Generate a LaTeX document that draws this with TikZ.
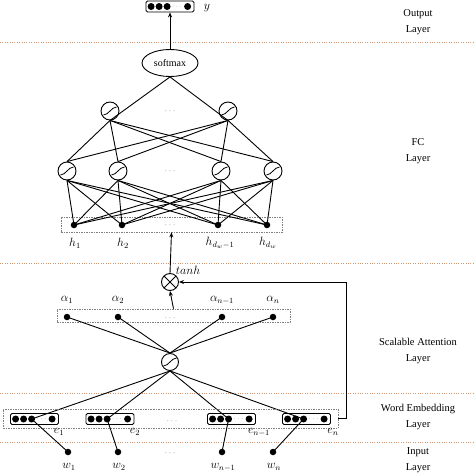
\documentclass[tikz,border=0pt]{standalone}
\usepackage{fontspec}
\setmainfont{Liberation Serif}
\usetikzlibrary{arrows.meta,shapes.geometric}
\definecolor{sepcol}{RGB}{205,150,110}
\begin{document}
\begin{tikzpicture}[x=1pt,y=-1pt,
  conn/.style={line width=0.9pt},
  arr/.style={conn,-{Stealth[length=5pt,width=4pt]}},
  neuron/.style={circle,draw,line width=0.9pt,fill=white,minimum size=18pt,inner sep=0pt,
    path picture={\draw[line width=0.8pt]
      ([shift={(-6.5pt,-4pt)}]path picture bounding box.center) .. controls
      ([shift={(-1.5pt,-4pt)}]path picture bounding box.center) and
      ([shift={(1.5pt,4pt)}]path picture bounding box.center) ..
      ([shift={(6.5pt,4pt)}]path picture bounding box.center);}},
  mulnode/.style={circle,draw,line width=0.9pt,minimum size=17pt,inner sep=0pt,
    path picture={\draw[line width=0.8pt]
      (path picture bounding box.south west) -- (path picture bounding box.north east)
      (path picture bounding box.north west) -- (path picture bounding box.south east);}},
  bdot/.style={circle,fill,inner sep=0pt,minimum size=6.5pt},
  vdot/.style={circle,fill,inner sep=0pt,minimum size=7pt},
  vecbox/.style={draw,rounded corners=1.5pt,line width=0.8pt,minimum width=48pt,minimum height=11pt,inner sep=0pt},
  dashbox/.style={draw=gray,dash pattern=on 1.5pt off 1pt,line width=0.6pt,inner sep=0pt},
  sep/.style={draw=sepcol,dash pattern=on 0.8pt off 1.6pt,line width=0.9pt},
  lay/.style={align=center,font=\fontsize{10.5}{16}\selectfont},
  dts/.style={text=gray,font=\small,inner sep=0pt},
  lab/.style={font=\fontsize{12}{14}\selectfont,inner sep=0pt}
]
\useasboundingbox (0,0) rectangle (474,474);

% separators
\draw[sep] (0,42) -- (474,42);
\draw[sep] (0,263) -- (474,263);
\draw[sep] (0,393) -- (474,393);
\draw[sep] (0,442) -- (474,442);

% layer labels
\node[lay] (lout) at (418,22) {Output\\Layer};
\node[lay] (lfc) at (418,151) {FC\\Layer};
\node[lay] (latt) at (418,351) {Scalable Attention\\Layer};
\node[lay] (lemb) at (418,417) {Word Embedding\\Layer};
\node[lay] (linp) at (418,460) {Input\\Layer};

% vectors (output + embeddings)
\foreach \n/\cx/\cy in {yv/170/6.5, e1/34.5/419, e2/110/419, e3/231.5/419, e4/306.5/419}{
  \node[vecbox] (\n) at (\cx,\cy) {};
  \node[vdot] (\n-1) at ([xshift=5.5pt]\n.west) {};
  \node[vdot] (\n-2) at ([xshift=13.5pt]\n.west) {};
  \node[vdot] (\n-3) at ([xshift=21.5pt]\n.west) {};
  \node[dts,font=\scriptsize] (\n-d) at ([xshift=31.5pt]\n.west) {$\cdots$};
  \node[vdot] (\n-4) at ([xshift=42pt]\n.west) {};
}
\node[lab] (ylab) at (207,8) {$y$};

% softmax
\node[ellipse,draw,line width=0.9pt,minimum width=56pt,minimum height=27pt,inner sep=0pt,font=\fontsize{10}{11}\selectfont] (soft) at (170,63) {softmax};
\draw[arr] (soft.north) -- (yv.south);

% FC neurons
\node[neuron] (t1) at (110,111) {};
\node[neuron] (t2) at (228,111) {};
\node[dts] (tdots) at (170,111) {$\cdots$};
\node[neuron] (f1) at (67,171) {};
\node[neuron] (f2) at (118,171) {};
\node[neuron] (f3) at (221,171) {};
\node[neuron] (f4) at (273,171) {};
\node[dts] (fdots) at (170,171) {$\cdots$};

% h layer
\node[dashbox,minimum width=221pt,minimum height=15pt] (hbox) at (171.5,224.5) {};
\node[bdot] (h1) at (74,225) {};
\node[bdot] (h2) at (122,225) {};
\node[bdot] (h3) at (218,225) {};
\node[bdot] (h4) at (267,225) {};
\node[dts] (hdots) at (170,225) {$\cdots$};
\node[lab] (hl1) at (75,243) {$h_1$};
\node[lab] (hl2) at (123,243) {$h_2$};
\node[lab] (hl3) at (220,243) {$h_{d_w-1}$};
\node[lab] (hl4) at (268,243) {$h_{d_w}$};

\foreach \t in {t1,t2}{ \draw[conn] (\t.south) -- (soft.south); }
\foreach \t in {t1,t2}{ \foreach \f in {f1,f2,f3,f4}{ \draw[conn] (\t.south) -- (\f.north); } }
\foreach \f in {f1,f2,f3,f4}{ \foreach \h in {h1,h2,h3,h4}{ \draw[conn] (\f.south) -- (\h.center); } }

% tanh / multiply
\node[mulnode] (mul) at (170,282) {};
\node[lab] (tanhl) at (188,270) {$tanh$};
\draw[arr] (mul.north) -- (hbox.south);

% alpha layer
\node[dashbox,minimum width=233pt,minimum height=13pt] (abox) at (173.5,315.5) {};
\node[bdot] (a1) at (67,317) {};
\node[bdot] (a2) at (118,317) {};
\node[bdot] (a3) at (222,317) {};
\node[bdot] (a4) at (273,317) {};
\node[dts] (adots) at (170,318) {$\cdots$};
\node[lab] (al1) at (67,300) {$\alpha_1$};
\node[lab] (al2) at (118,300) {$\alpha_2$};
\node[lab] (al3) at (222,300) {$\alpha_{n-1}$};
\node[lab] (al4) at (273,300) {$\alpha_n$};
\draw[arr] (abox.north) -- (mul.south);

% attention neuron
\node[neuron,minimum size=17pt] (att) at (170,362) {};
\foreach \a in {a1,a2,a3,a4}{ \draw[conn] (\a.center) -- (att.north); }
\foreach \e in {e1,e2,e3,e4}{ \draw[conn] (att.south) -- (\e-3.center); }

% embedding box
\node[dashbox,minimum width=335pt,minimum height=19pt] (ebox) at (170.5,418.5) {};
\node[dts] (edots) at (172,421) {$\cdots$};
\node[lab] (el1) at (59,432) {$e_1$};
\node[lab] (el2) at (135,432) {$e_2$};
\node[lab] (el3) at (259,432) {$e_{n-1}$};
\node[lab] (el4) at (333,432) {$e_n$};

% feedback line
\coordinate (fb) at (346,418.5);
\draw[arr] (ebox.east) -- (fb) |- (mul.east);

% input words
\node[bdot] (w1) at (68,452) {};
\node[bdot] (w2) at (118,452) {};
\node[bdot] (w3) at (222,452) {};
\node[bdot] (w4) at (273,452) {};
\node[dts] (wdots) at (170,453) {$\cdots$};
\node[lab] (wl1) at (69,467) {$w_1$};
\node[lab] (wl2) at (119,467) {$w_2$};
\node[lab] (wl3) at (223,467) {$w_{n-1}$};
\node[lab] (wl4) at (274,467) {$w_n$};
\draw[conn] (w1.center) -- (e1-3.center);
\draw[conn] (w2.center) -- (e2-3.center);
\draw[conn] (w3.center) -- (e3-3.center);
\draw[conn] (w4.center) -- (e4-3.center);
\end{tikzpicture}
\end{document}
